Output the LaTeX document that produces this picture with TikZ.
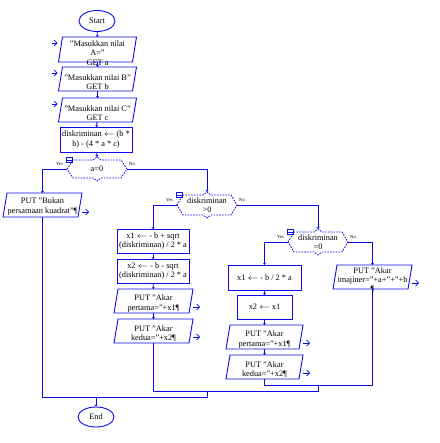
\documentclass[tikz,border=0pt]{standalone}
\usepackage{fontspec}
\setmainfont{Liberation Serif}
\usetikzlibrary{arrows.meta,shapes.geometric}
\definecolor{rb}{RGB}{10,10,235}
\newcommand\larr{\scalebox{1.25}[1]{$\leftarrow$}}
\newcommand\paradraw[1]{\draw[ln] ([xshift=4pt]#1.north west) -- (#1.north east) -- ([xshift=-4pt]#1.south east) -- (#1.south west) -- cycle;}
\newcommand\decdraw[1]{\draw[ln,decline] (#1.west) -- ([xshift=6pt]#1.north west) -- ([xshift=-4pt]#1.north) -- ([yshift=3pt]#1.north) -- ([xshift=4pt]#1.north) -- ([xshift=-6pt]#1.north east) -- (#1.east) -- ([xshift=-6pt]#1.south east) -- ([xshift=4pt]#1.south) -- ([yshift=-3pt]#1.south) -- ([xshift=-4pt]#1.south) -- ([xshift=6pt]#1.south west) -- cycle;
\node[minusbox] at ([xshift=2.5pt]#1.north west) {};}
\tikzset{
  ln/.style={draw=rb, line width=0.9pt},
  decline/.style={dash pattern=on 1.6pt off 1.2pt, line width=0.8pt},
  shape box/.style={inner sep=0pt, outer sep=0pt, minimum width=#1},
  txt/.style={font=\fontsize{8.3}{9.6}\selectfont, align=center, inner sep=0pt, text=black},
  procbox/.style={ln, inner sep=0pt, outer sep=0pt, minimum width=#1, minimum height=24pt, font=\fontsize{8.3}{9.8}\selectfont, align=center},
  term/.style={ellipse, ln, inner sep=0pt, minimum width=36pt, minimum height=21pt, font=\fontsize{8.3}{9.6}\selectfont},
  small/.style={font=\fontsize{4.6}{5}\selectfont, inner sep=0pt},
  minusbox/.style={draw=rb, line width=0.8pt, minimum width=5.5pt, minimum height=5.5pt, inner sep=0pt, path picture={\draw[rb, line width=0.7pt] (path picture bounding box.west) -- (path picture bounding box.east);}},
  con/.style={ln, -{Stealth[length=2pt,width=3pt]}},
  outarr/.style={ln, line width=0.7pt, -{Straight Barb[length=2.8pt,width=6pt]}},
}
\begin{document}
\begin{tikzpicture}[x=1pt,y=-1pt]
\useasboundingbox (0,0) rectangle (439,443);
% terminals
\node[term] (start) at (97,21) {Start};
\node[term, minimum height=20pt] (end) at (96,417) {End};
% inputs
\node[shape box=78pt, minimum height=25pt] (in1) at (97.5,49.5) {};
\node[shape box=78pt, minimum height=24pt] (in2) at (97.5,79) {};
\node[shape box=78pt, minimum height=24pt] (in3) at (97.5,110) {};
\paradraw{in1}\paradraw{in2}\paradraw{in3}
\node[txt] (tin1) at (97.5,53) {"Masukkan nilai\\A="\\GET a};
\node[txt] (tin2) at (97.5,82) {"Masukkan nilai B"\\GET b};
\node[txt] (tin3) at (97.5,113) {"Masukkan nilai C"\\GET c};
\coordinate (a1) at (52,43);
\coordinate (a2) at (52,73);
\coordinate (a3) at (52,104);
\draw[outarr] (a1) -- ([xshift=-1pt]in1.west |- a1);
\draw[outarr] (a2) -- ([xshift=-1pt]in2.west |- a2);
\draw[outarr] (a3) -- ([xshift=-1pt]in3.west |- a3);
% process
\node[procbox=72pt, minimum height=25pt] (proc) at (96,139.5) {diskriminan \larr{} (b *\\b) - (4 * a * c)};
% decision 1
\node[shape box=60pt, minimum height=18pt] (d1) at (97,169) {};
\decdraw{d1}
\node[txt] (td1) at (d1) {a=0};
\node[small, anchor=east] (y1) at ([xshift=-4pt,yshift=5pt]d1.west) {Yes};
\node[small, anchor=west] (n1) at ([xshift=2pt,yshift=5pt]d1.east) {No};
% put 1
\node[shape box=79pt, minimum height=24pt] (put1) at (42.5,205) {};
\paradraw{put1}
\node[txt] (tput1) at (42.5,206.5) {PUT "Bukan\\persamaan kuadrat"¶};
% decision 2
\node[shape box=60pt, minimum height=20pt] (d2) at (207,205) {};
\decdraw{d2}
\node[txt] (td2) at (d2) {diskriminan\\>0};
\node[small, anchor=east] (y2) at ([xshift=-4pt,yshift=5pt]d2.west) {Yes};
\node[small, anchor=west] (n2) at ([xshift=2pt,yshift=5pt]d2.east) {No};
% left branch
\node[procbox=72pt] (b1) at (153,241) {x1 \larr{} - b + sqrt\\(diskriminan) / 2 * a};
\node[procbox=72pt] (b2) at (153,271) {x2 \larr{} - b - sqrt\\(diskriminan) / 2 * a};
\node[shape box=79pt, minimum height=24pt] (p1) at (153.5,301) {};
\node[shape box=79pt, minimum height=24pt] (p2) at (153.5,331) {};
\paradraw{p1}\paradraw{p2}
\node[txt] (tp1) at (153.5,303.5) {PUT "Akar\\pertama="+x1¶};
\node[txt] (tp2) at (153.5,333.5) {PUT "Akar\\kedua="+x2¶};
% decision 3
\node[shape box=60pt, minimum height=20pt] (d3) at (318,242) {};
\decdraw{d3}
\node[txt] (td3) at (d3) {diskriminan\\=0};
\node[small, anchor=east] (y3) at ([xshift=-4pt,yshift=5pt]d3.west) {Yes};
\node[small, anchor=west] (n3) at ([xshift=2pt,yshift=5pt]d3.east) {No};
% middle branch
\node[procbox=73pt, minimum height=25pt] (b3) at (264.5,277.5) {x1 \larr{} - b / 2 * a};
\node[procbox=55pt] (b4) at (264.5,307) {x2 \larr{} x1};
\node[shape box=77pt, minimum height=24pt] (p3) at (264.5,337) {};
\node[shape box=77pt, minimum height=24pt] (p4) at (264.5,367) {};
\paradraw{p3}\paradraw{p4}
\node[txt] (tp3) at (264.5,339.5) {PUT "Akar\\pertama="+x1¶};
\node[txt] (tp4) at (264.5,369.5) {PUT "Akar\\kedua="+x2¶};
% right branch
\node[shape box=79pt, minimum height=24pt] (p5) at (372.5,277) {};
\paradraw{p5}
\node[txt, font=\fontsize{8.3}{9}\selectfont] (tp5) at (372.5,280) {PUT "Akar\\imajiner="+a+"+"+b\\¶};
% output arrows
\draw[outarr] ([yshift=-7pt]put1.east) -- ++(7,0);
\draw[outarr] ([yshift=-6pt]p1.east) -- ++(7,0);
\draw[outarr] ([yshift=-6pt]p2.east) -- ++(7,0);
\draw[outarr] ([yshift=-6pt]p3.east) -- ++(7,0);
\draw[outarr] ([yshift=-6pt]p4.east) -- ++(7,0);
\draw[outarr] ([yshift=-6pt]p5.east) -- ++(7,0);
% main connectors
\draw[con] (start) -- (in1);
\draw[con] (in1) -- (in2);
\draw[con] (in2) -- (in3);
\draw[con] (in3) -- (proc);
\draw[con] (proc) -- ([yshift=3pt]d1.north);
\draw[con] (d1.west) -| (put1.north);
\draw[con] (d1.east) -| ([yshift=3pt]d2.north);
\draw[con] (d2.west) -| (b1.north);
\draw[con] (b1) -- (b2);
\draw[con] (b2) -- (p1);
\draw[con] (p1) -- (p2);
\draw[con] (d2.east) -| ([yshift=3pt]d3.north);
\draw[con] (d3.west) -| (b3.north);
\draw[con] (b3) -- (b4);
\draw[con] (b4) -- (p3);
\draw[con] (p3) -- (p4);
\draw[con] (d3.east) -| (p5.north);
% merges
\coordinate (j3) at (318,385);
\coordinate (j2) at (207,391);
\coordinate (j1) at (96,397);
\draw[ln] (p5.south) |- (j3);
\draw[ln] (p4.south) |- (j3);
\draw[ln] (j3) |- (j2);
\draw[ln] (p2.south) |- (j2);
\draw[ln] (j2) |- (j1);
\draw[ln] (put1.south) |- (j1);
\draw[con] (j1) -- (end);
\end{tikzpicture}
\end{document}
